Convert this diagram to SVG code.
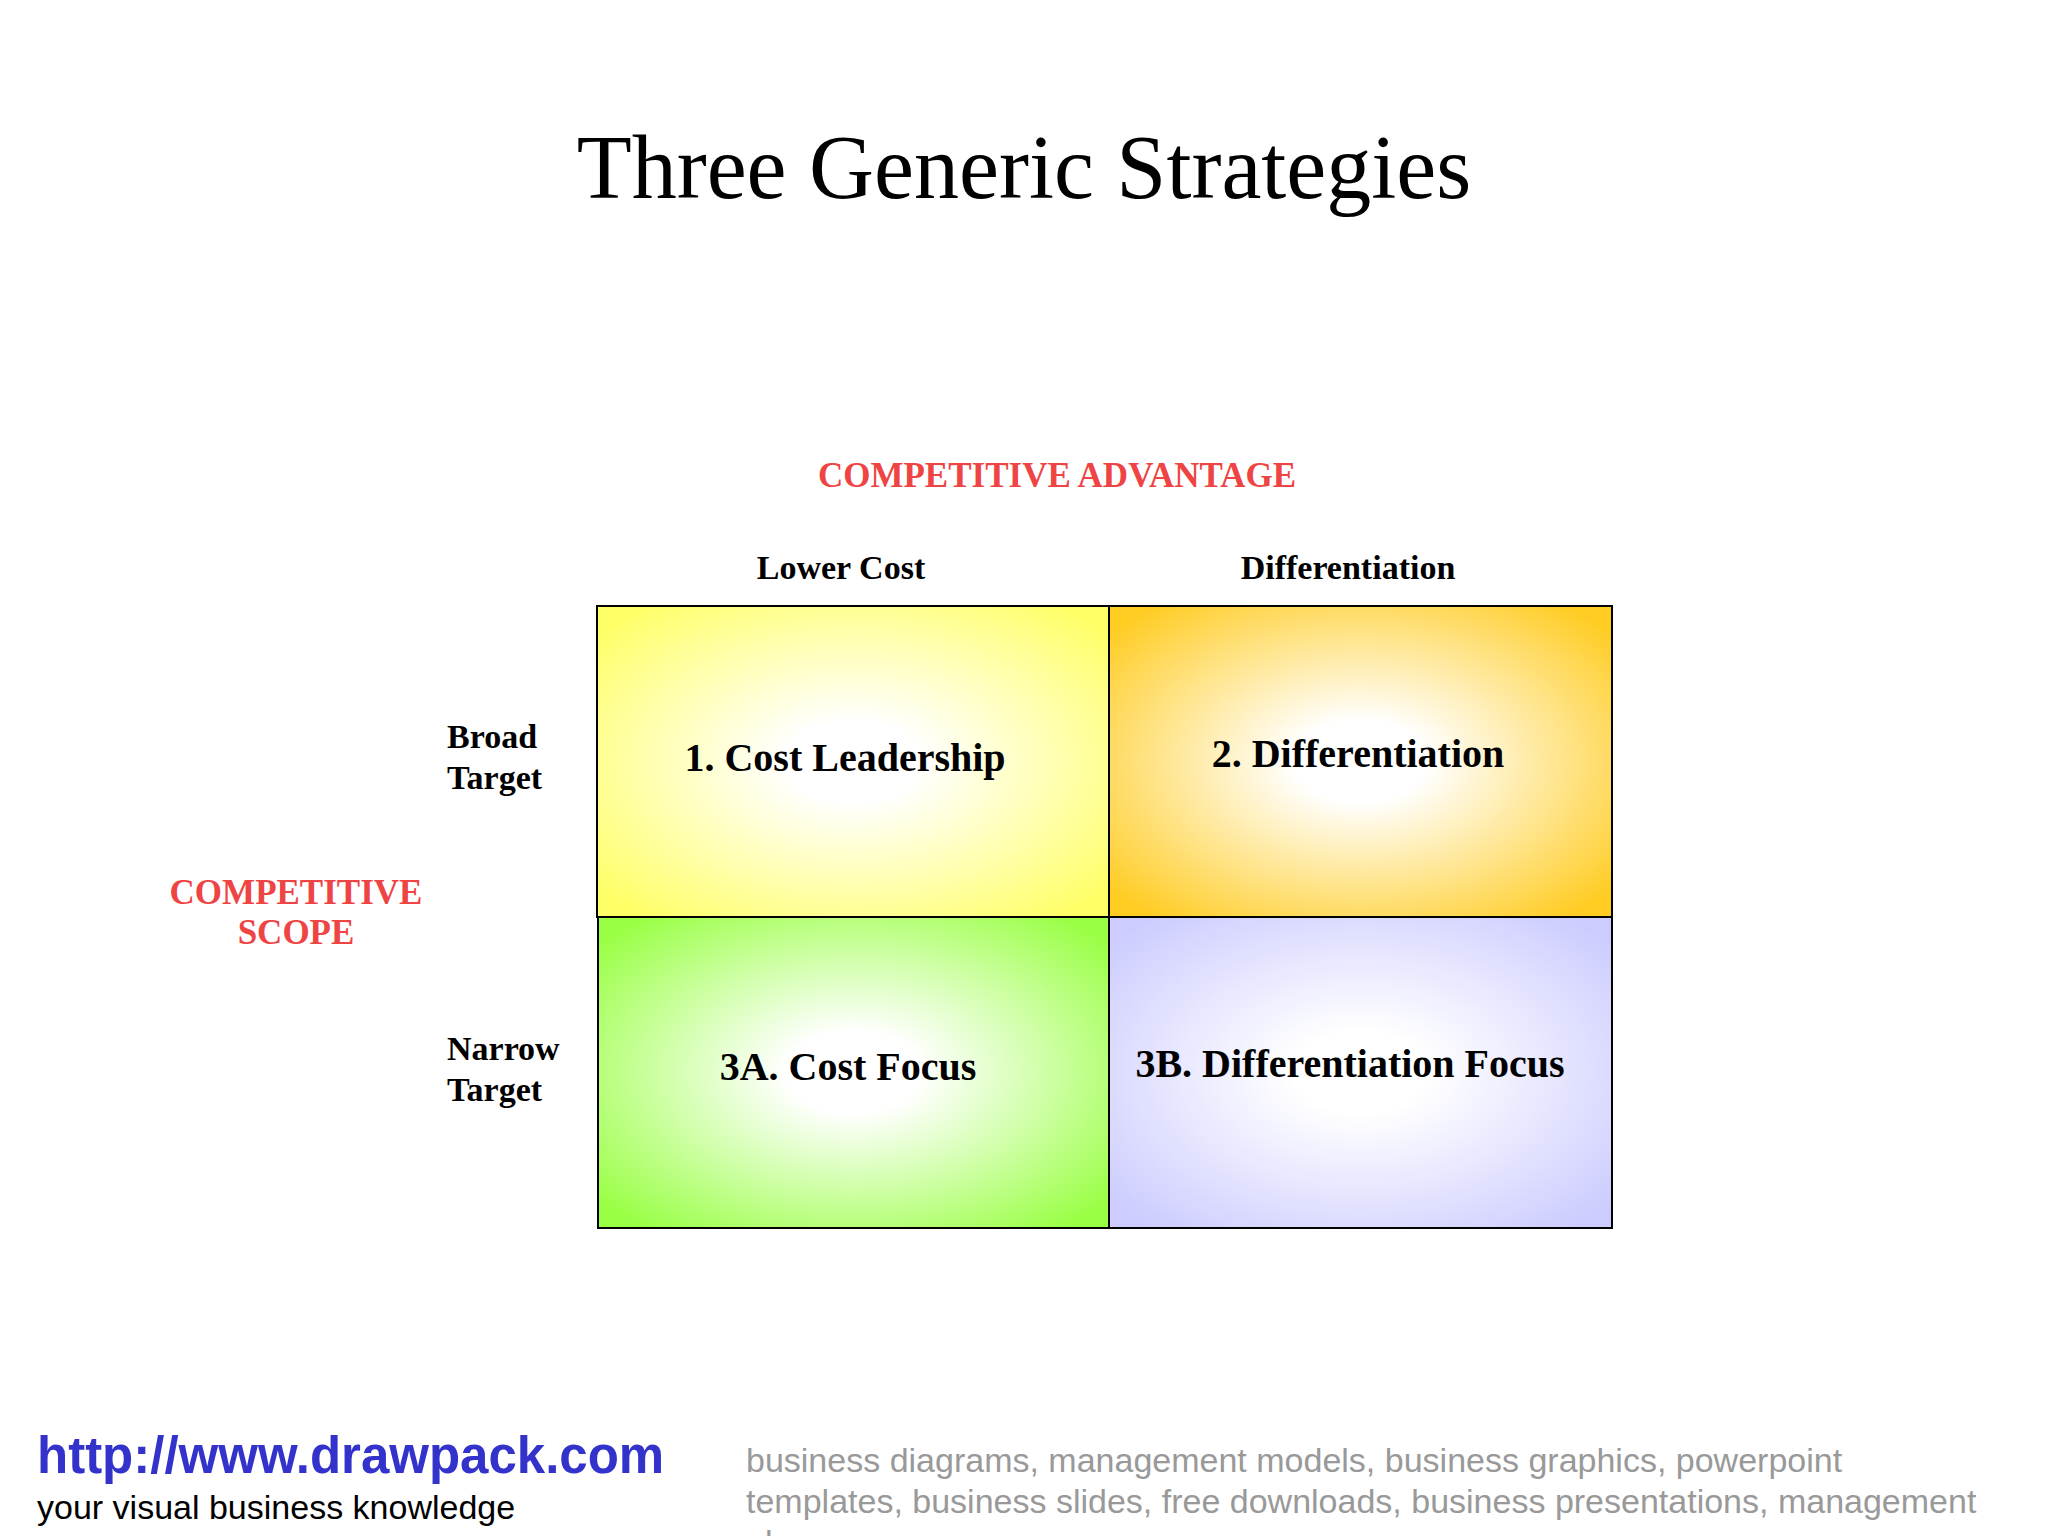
<svg xmlns="http://www.w3.org/2000/svg" width="2048" height="1536" viewBox="0 0 2048 1536">
<style>
.s{font-family:"Liberation Serif",serif;font-weight:bold}
.red{fill:#ee4444;font-size:35px}
.hd{font-size:34px;fill:#000}
.cell{font-size:40px;fill:#000;text-anchor:middle}
.box{stroke:#000;stroke-width:2}
</style>
<defs>
<radialGradient id="gy" cx="0.5" cy="0.5" r="0.65"><stop offset="0.2" stop-color="#fff"/><stop offset="1" stop-color="#ffff66"/></radialGradient>
<radialGradient id="go" cx="0.5" cy="0.5" r="0.65"><stop offset="0.2" stop-color="#fff"/><stop offset="1" stop-color="#ffcc22"/></radialGradient>
<radialGradient id="gg" cx="0.5" cy="0.5" r="0.65"><stop offset="0.2" stop-color="#fff"/><stop offset="1" stop-color="#99ff44"/></radialGradient>
<radialGradient id="gl" cx="0.5" cy="0.5" r="0.65"><stop offset="0.2" stop-color="#fff"/><stop offset="1" stop-color="#ccccff"/></radialGradient>
</defs>
<rect width="2048" height="1536" fill="#fff"/>
<text x="1024" y="198" font-family="Liberation Serif,serif" font-size="90" text-anchor="middle">Three Generic Strategies</text>
<text class="s red" x="1057" y="487" text-anchor="middle">COMPETITIVE ADVANTAGE</text>
<text class="s hd" x="841" y="579" text-anchor="middle">Lower Cost</text>
<text class="s hd" x="1348" y="579" text-anchor="middle">Differentiation</text>
<text class="s hd" x="447" y="748">Broad</text>
<text class="s hd" x="447" y="789">Target</text>
<text class="s hd" x="447" y="1060">Narrow</text>
<text class="s hd" x="447" y="1101">Target</text>
<text class="s red" x="296" y="904" text-anchor="middle">COMPETITIVE</text>
<text class="s red" x="296" y="944" text-anchor="middle">SCOPE</text>
<g id="c1"><rect class="box" x="597" y="606" width="512" height="311" fill="url(#gy)"/><text class="s cell" x="845" y="771">1. Cost Leadership</text></g>
<g id="c2"><rect class="box" x="1109" y="606" width="503" height="311" fill="url(#go)"/><text class="s cell" x="1358" y="767">2. Differentiation</text></g>
<g id="c3"><rect class="box" x="598" y="917" width="511" height="311" fill="url(#gg)"/><text class="s cell" x="848" y="1080">3A. Cost Focus</text></g>
<g id="c4"><rect class="box" x="1109" y="917" width="503" height="311" fill="url(#gl)"/><text class="s cell" x="1350" y="1077">3B. Differentiation Focus</text></g>
<g id="connectors"/>
<text x="37" y="1473" font-family="Liberation Sans,sans-serif" font-weight="bold" font-size="51" fill="#3333cc">http://www.drawpack.com</text>
<text x="37" y="1519" font-family="Liberation Sans,sans-serif" font-size="34" fill="#000">your visual business knowledge</text>
<g font-family="Liberation Sans,sans-serif" font-size="34" fill="#999">
<text x="746" y="1472">business diagrams, management models, business graphics, powerpoint</text>
<text x="746" y="1513">templates, business slides, free downloads, business presentations, management</text>
<text x="746" y="1554">glossary</text>
</g>
</svg>
